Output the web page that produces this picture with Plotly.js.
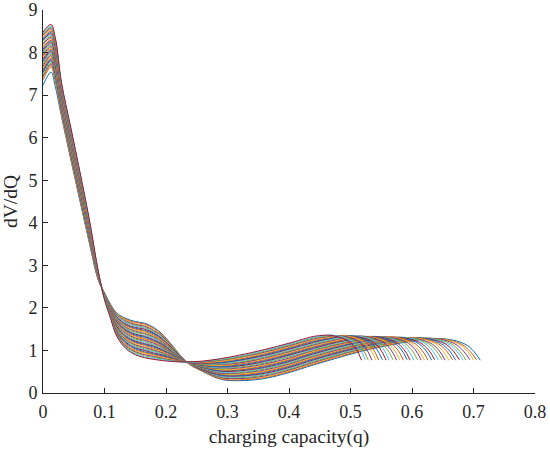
<!DOCTYPE html>
<html>
<head>
<meta charset="utf-8">
<script src="https://cdn.plot.ly/plotly-3.0.1.min.js"></script>
<style>html,body{margin:0;padding:0;background:#fff;}#chart{width:550px;height:453px;}</style>
</head>
<body>
<div id="chart"></div>
<script>
// charging capacity knots shared by all curves (q)
const qKnots = [0, 0.013, 0.02, 0.03, 0.045, 0.06, 0.075, 0.09, 0.1, 0.11, 0.12, 0.135, 0.15, 0.165, 0.18, 0.195, 0.21, 0.234, 0.26, 0.29, 0.32, 0.36, 0.4, 0.44];

// dV/dQ read at each knot, one value per curve (curve 1 ... curve 35)
const v000 = [7.23,7.36,7.39,7.43,7.46,7.50,7.54,7.57,7.61,7.64,7.68,7.72,7.75,7.79,7.83,7.86,7.90,7.93,7.97,8.01,8.04,8.08,8.11,8.15,8.19,8.22,8.26,8.29,8.32,8.35,8.38,8.41,8.44,8.46,8.48];
const v013 = [7.54,7.66,7.69,7.72,7.75,7.78,7.81,7.84,7.87,7.90,7.93,7.96,7.99,8.02,8.05,8.08,8.11,8.14,8.17,8.20,8.23,8.26,8.29,8.32,8.35,8.38,8.41,8.44,8.47,8.50,8.53,8.56,8.59,8.62,8.66];
const v020 = [7.20,7.32,7.35,7.38,7.41,7.44,7.48,7.51,7.54,7.57,7.60,7.63,7.66,7.69,7.73,7.76,7.79,7.82,7.85,7.88,7.91,7.94,7.98,8.01,8.04,8.07,8.10,8.13,8.16,8.19,8.23,8.26,8.29,8.32,8.35];
const v030 = [6.50,6.55,6.57,6.60,6.62,6.64,6.66,6.69,6.71,6.73,6.75,6.78,6.80,6.82,6.85,6.87,6.89,6.91,6.94,6.96,6.98,7.00,7.03,7.05,7.07,7.10,7.12,7.14,7.16,7.19,7.21,7.23,7.25,7.28,7.30];
const v045 = [5.50,5.52,5.54,5.57,5.59,5.61,5.63,5.65,5.68,5.70,5.72,5.74,5.76,5.79,5.81,5.83,5.85,5.88,5.90,5.92,5.94,5.96,5.99,6.01,6.03,6.05,6.07,6.10,6.12,6.14,6.16,6.18,6.21,6.23,6.25];
const v060 = [4.52,4.54,4.56,4.58,4.60,4.61,4.64,4.66,4.68,4.70,4.72,4.74,4.76,4.78,4.80,4.82,4.84,4.86,4.88,4.90,4.92,4.94,4.96,4.98,5.00,5.02,5.04,5.06,5.08,5.10,5.12,5.14,5.16,5.18,5.20];
const v075 = [3.55,3.57,3.58,3.60,3.61,3.63,3.65,3.66,3.68,3.70,3.71,3.73,3.74,3.76,3.78,3.79,3.81,3.83,3.84,3.86,3.87,3.89,3.91,3.92,3.94,3.95,3.97,3.99,4.00,4.02,4.04,4.05,4.07,4.08,4.10];
const v090 = [2.65,2.66,2.66,2.67,2.67,2.68,2.69,2.69,2.70,2.70,2.71,2.71,2.72,2.73,2.73,2.74,2.74,2.75,2.76,2.76,2.77,2.77,2.78,2.79,2.79,2.80,2.80,2.81,2.81,2.82,2.83,2.83,2.84,2.84,2.85];
const v100 = [2.35,2.35,2.34,2.34,2.33,2.33,2.32,2.32,2.31,2.31,2.31,2.30,2.30,2.29,2.29,2.28,2.28,2.27,2.27,2.27,2.26,2.26,2.25,2.25,2.24,2.24,2.23,2.23,2.23,2.22,2.22,2.21,2.21,2.20,2.20];
const v110 = [2.08,2.07,2.06,2.05,2.04,2.03,2.02,2.01,2.00,1.99,1.98,1.97,1.96,1.95,1.94,1.93,1.92,1.92,1.91,1.90,1.89,1.88,1.87,1.86,1.85,1.84,1.83,1.82,1.81,1.80,1.79,1.78,1.77,1.76,1.75];
const v120 = [1.88,1.86,1.85,1.83,1.82,1.80,1.78,1.77,1.75,1.73,1.72,1.70,1.69,1.67,1.65,1.64,1.62,1.60,1.59,1.57,1.56,1.54,1.52,1.51,1.49,1.48,1.46,1.44,1.43,1.41,1.39,1.38,1.36,1.35,1.33];
const v135 = [1.75,1.73,1.71,1.69,1.67,1.65,1.62,1.60,1.58,1.56,1.54,1.52,1.50,1.48,1.46,1.44,1.42,1.40,1.37,1.35,1.33,1.31,1.29,1.27,1.25,1.23,1.21,1.19,1.17,1.14,1.12,1.10,1.08,1.06,1.04];
const v150 = [1.68,1.66,1.63,1.61,1.59,1.57,1.54,1.52,1.50,1.47,1.45,1.43,1.40,1.38,1.36,1.34,1.31,1.29,1.27,1.24,1.22,1.20,1.18,1.15,1.13,1.11,1.08,1.06,1.04,1.01,0.99,0.97,0.95,0.92,0.90];
const v165 = [1.64,1.62,1.59,1.57,1.54,1.52,1.50,1.47,1.45,1.43,1.40,1.38,1.35,1.33,1.31,1.28,1.26,1.24,1.21,1.19,1.16,1.14,1.12,1.09,1.07,1.04,1.02,1.00,0.97,0.95,0.93,0.90,0.88,0.85,0.83];
const v180 = [1.54,1.52,1.50,1.47,1.45,1.43,1.41,1.39,1.36,1.34,1.32,1.30,1.28,1.25,1.23,1.21,1.19,1.17,1.14,1.12,1.10,1.08,1.05,1.03,1.01,0.99,0.97,0.94,0.92,0.90,0.88,0.86,0.83,0.81,0.79];
const v195 = [1.37,1.35,1.33,1.32,1.30,1.28,1.26,1.24,1.23,1.21,1.19,1.17,1.15,1.14,1.12,1.10,1.08,1.07,1.05,1.03,1.01,0.99,0.98,0.96,0.94,0.92,0.90,0.89,0.87,0.85,0.83,0.81,0.80,0.78,0.76];
const v210 = [1.12,1.11,1.10,1.09,1.08,1.06,1.05,1.04,1.03,1.02,1.01,1.00,0.99,0.97,0.96,0.95,0.94,0.93,0.92,0.91,0.90,0.89,0.87,0.86,0.85,0.84,0.83,0.82,0.81,0.80,0.78,0.77,0.76,0.75,0.74];
const v234 = [0.72,0.72,0.72,0.73,0.72,0.73,0.72,0.73,0.73,0.72,0.73,0.73,0.72,0.73,0.73,0.73,0.72,0.73,0.73,0.73,0.73,0.72,0.73,0.73,0.73,0.73,0.73,0.72,0.73,0.73,0.73,0.73,0.73,0.72,0.73];
const v260 = [0.50,0.51,0.51,0.52,0.53,0.54,0.54,0.55,0.56,0.57,0.57,0.58,0.59,0.60,0.60,0.61,0.62,0.62,0.63,0.64,0.65,0.65,0.66,0.67,0.68,0.68,0.69,0.70,0.71,0.71,0.72,0.73,0.74,0.74,0.75];
const v290 = [0.32,0.33,0.35,0.36,0.38,0.39,0.41,0.42,0.44,0.45,0.46,0.48,0.49,0.51,0.52,0.54,0.55,0.57,0.58,0.59,0.61,0.62,0.64,0.65,0.67,0.68,0.69,0.71,0.72,0.74,0.75,0.77,0.78,0.80,0.81];
const v320 = [0.29,0.31,0.33,0.34,0.36,0.38,0.40,0.41,0.43,0.45,0.47,0.48,0.50,0.52,0.54,0.55,0.57,0.59,0.61,0.63,0.64,0.66,0.68,0.70,0.71,0.73,0.75,0.77,0.78,0.80,0.82,0.84,0.85,0.87,0.89];
const v360 = [0.34,0.36,0.38,0.40,0.42,0.44,0.46,0.48,0.50,0.52,0.54,0.56,0.58,0.60,0.62,0.64,0.66,0.68,0.70,0.72,0.74,0.76,0.78,0.80,0.82,0.84,0.86,0.88,0.90,0.92,0.94,0.96,0.98,1.00,1.02];
const v400 = [0.48,0.50,0.52,0.54,0.56,0.58,0.60,0.62,0.64,0.66,0.68,0.70,0.72,0.74,0.76,0.78,0.80,0.82,0.85,0.87,0.89,0.91,0.93,0.95,0.97,0.99,1.01,1.03,1.05,1.07,1.09,1.11,1.13,1.15,1.17];
const v440 = [0.66,0.68,0.70,0.72,0.74,0.76,0.78,0.80,0.82,0.84,0.86,0.88,0.90,0.92,0.94,0.96,0.98,1.00,1.01,1.03,1.05,1.07,1.09,1.11,1.13,1.15,1.17,1.19,1.21,1.23,1.25,1.27,1.29,1.31,1.33];

// tail of each curve: rise, plateau top, drop and end point
const qMid = [0.542,0.540,0.537,0.535,0.532,0.530,0.527,0.524,0.522,0.519,0.516,0.514,0.511,0.508,0.506,0.503,0.500,0.498,0.495,0.492,0.490,0.487,0.485,0.482,0.479,0.477,0.474,0.471,0.469,0.466,0.463,0.461,0.458,0.455,0.452];
const vMid = [1.06,1.07,1.08,1.09,1.09,1.10,1.11,1.12,1.13,1.14,1.14,1.15,1.16,1.17,1.18,1.19,1.19,1.20,1.21,1.22,1.23,1.24,1.24,1.25,1.26,1.27,1.28,1.29,1.29,1.30,1.31,1.32,1.33,1.34,1.35];
const qTop = [0.645,0.640,0.634,0.629,0.624,0.619,0.613,0.608,0.603,0.597,0.592,0.587,0.581,0.576,0.571,0.566,0.560,0.555,0.550,0.544,0.539,0.534,0.529,0.523,0.518,0.513,0.507,0.502,0.497,0.491,0.486,0.481,0.476,0.470,0.465];
const vTop = [1.28,1.28,1.28,1.29,1.29,1.29,1.29,1.30,1.30,1.30,1.30,1.31,1.31,1.31,1.31,1.32,1.32,1.32,1.32,1.32,1.33,1.33,1.33,1.33,1.34,1.34,1.34,1.34,1.35,1.35,1.35,1.35,1.35,1.36,1.36];
const qDrop1 = [0.686,0.680,0.675,0.669,0.663,0.658,0.652,0.646,0.641,0.635,0.629,0.624,0.618,0.612,0.607,0.601,0.595,0.590,0.584,0.578,0.572,0.567,0.561,0.555,0.550,0.544,0.538,0.533,0.527,0.521,0.516,0.510,0.504,0.499,0.493];
const vDrop1 = [1.15,1.15,1.16,1.16,1.16,1.16,1.17,1.17,1.17,1.18,1.18,1.18,1.19,1.19,1.19,1.19,1.20,1.20,1.20,1.21,1.21,1.21,1.21,1.22,1.22,1.22,1.23,1.23,1.23,1.24,1.24,1.24,1.24,1.25,1.25];
const qDrop2 = [0.701,0.695,0.690,0.684,0.678,0.673,0.667,0.661,0.656,0.650,0.644,0.639,0.633,0.627,0.622,0.616,0.610,0.605,0.599,0.593,0.587,0.582,0.576,0.570,0.565,0.559,0.553,0.548,0.542,0.536,0.531,0.525,0.519,0.514,0.508];
const vDrop2 = [0.97,0.97,0.98,0.98,0.98,0.98,0.99,0.99,0.99,0.99,1.00,1.00,1.00,1.01,1.01,1.01,1.01,1.02,1.02,1.02,1.02,1.03,1.03,1.03,1.03,1.04,1.04,1.04,1.04,1.05,1.05,1.05,1.05,1.06,1.06];
const qEnd = [0.711,0.705,0.700,0.694,0.688,0.683,0.677,0.671,0.666,0.660,0.654,0.649,0.643,0.637,0.632,0.626,0.620,0.615,0.609,0.603,0.597,0.592,0.586,0.580,0.575,0.569,0.563,0.558,0.552,0.546,0.541,0.535,0.529,0.524,0.518];
const vEnd = [0.77,0.78,0.77,0.78,0.77,0.77,0.78,0.77,0.78,0.77,0.77,0.78,0.77,0.78,0.77,0.77,0.78,0.77,0.78,0.77,0.77,0.78,0.77,0.78,0.77,0.78,0.77,0.77,0.78,0.77,0.78,0.77,0.77,0.78,0.77];

const colorOrder = ['#0072BD','#D95319','#EDB120','#7E2F8E','#77AC30','#4DBEEE','#A2142F'];
const xTicks = [0, 0.1, 0.2, 0.3, 0.4, 0.5, 0.6, 0.7, 0.8];
const yTicks = [0, 1, 2, 3, 4, 5, 6, 7, 8, 9];

const knotCols = [v000,v013,v020,v030,v045,v060,v075,v090,v100,v110,v120,v135,v150,v165,v180,v195,v210,v234,v260,v290,v320,v360,v400,v440];

const traces = [];
for (let i = 0; i < qEnd.length; i++) {
  const x = qKnots.concat([qMid[i], qTop[i], qDrop1[i], qDrop2[i], qEnd[i]]);
  const y = knotCols.map(c => c[i]).concat([vMid[i], vTop[i], vDrop1[i], vDrop2[i], vEnd[i]]);
  traces.push({
    x: x, y: y, type: 'scatter', mode: 'lines',
    line: {color: colorOrder[i % colorOrder.length], width: 1, shape: 'spline', smoothing: 1},
    hoverinfo: 'skip', showlegend: false
  });
}

const serif = '"Liberation Serif", "Times New Roman", serif';
const tickFont = {family: serif, size: 18, color: '#262626'};
const titleFont = {family: serif, size: 19.5, color: '#262626'};
const layout = {
  width: 550, height: 453,
  margin: {l: 43, r: 15, t: 10, b: 60},
  paper_bgcolor: '#ffffff', plot_bgcolor: '#ffffff',
  showlegend: false,
  font: tickFont,
  xaxis: {
    range: [0, 0.8], tickvals: xTicks, ticktext: xTicks.map(String),
    showline: true, linecolor: '#262626', linewidth: 1,
    ticks: 'inside', ticklen: 5, tickcolor: '#262626', tickwidth: 1,
    ticklabelstandoff: 2,
    showgrid: false, zeroline: false, tickfont: tickFont,
    title: {text: 'charging capacity(q)', font: titleFont, standoff: 8}
  },
  yaxis: {
    range: [0, 9], tickvals: yTicks, ticktext: yTicks.map(String),
    showline: true, linecolor: '#262626', linewidth: 1,
    ticks: 'inside', ticklen: 5, tickcolor: '#262626', tickwidth: 1,
    ticklabelstandoff: 1,
    showgrid: false, zeroline: false, tickfont: tickFont,
    title: {text: 'dV/dQ', font: titleFont, standoff: 9}
  }
};

Plotly.newPlot('chart', traces, layout, {staticPlot: true, displayModeBar: false});
</script>
</body>
</html>
